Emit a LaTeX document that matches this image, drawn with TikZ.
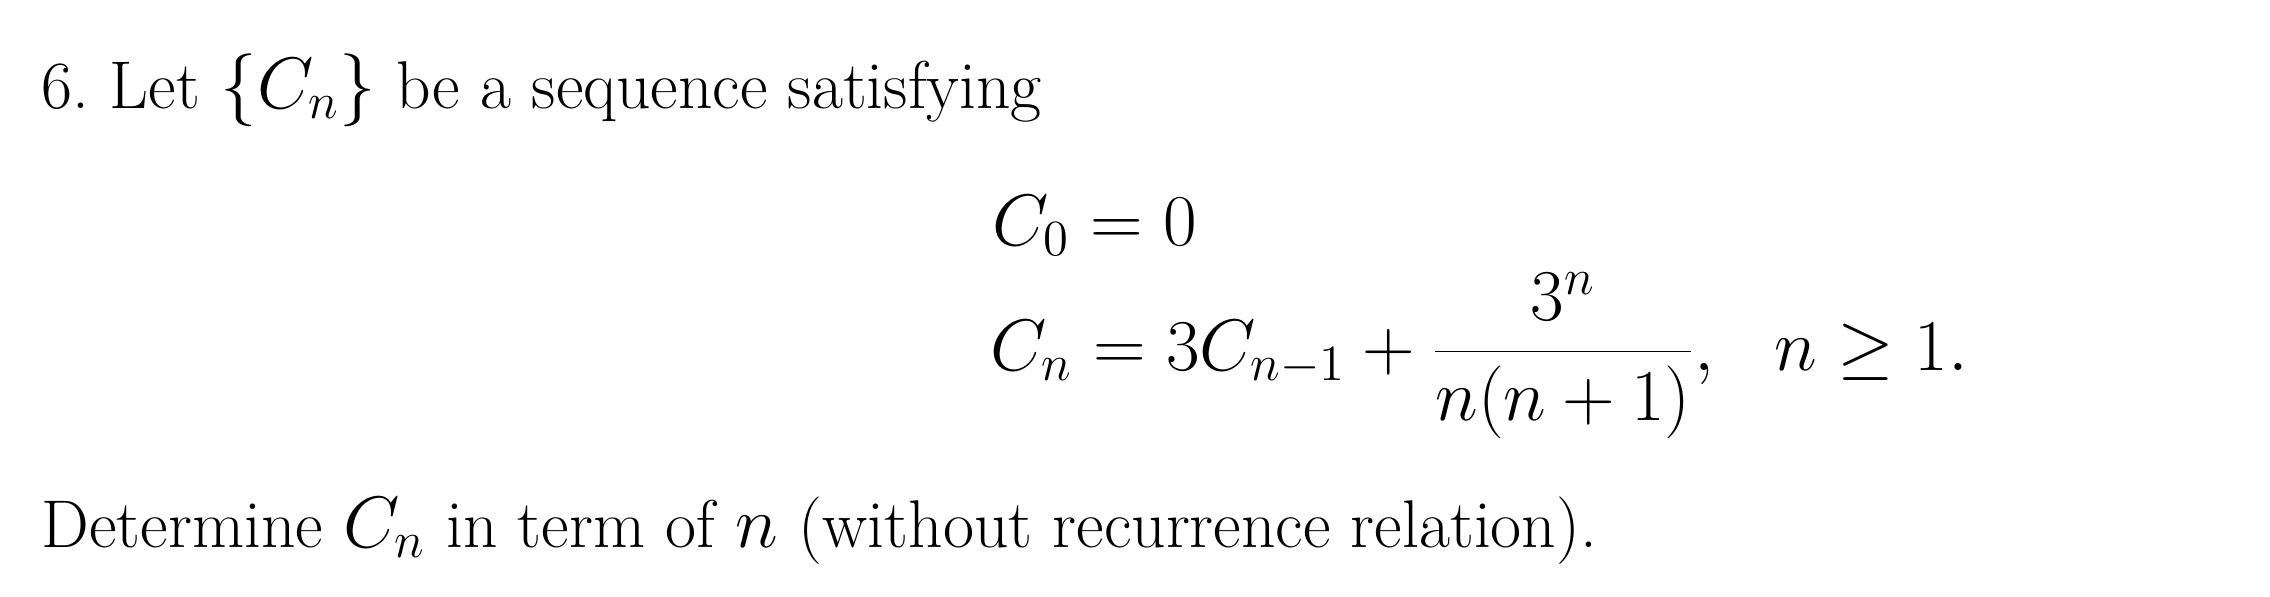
\documentclass[tikz,border=0pt]{standalone}
\begin{document}
\begin{tikzpicture}[x=0.01cm,y=-0.01cm,txt/.style={anchor=base west,inner sep=0pt,font=\fontsize{19.2}{23}\selectfont}]
\useasboundingbox (0,0) rectangle (2270,596);
\node[txt] (l1) at (41,108) {6.\ Let $\{C_n\}$ be a sequence satisfying};
\node[txt] (e1) at (992,245) {$C_0=0$};
\node[txt] (e2) at (990,370) {$\displaystyle C_n=3C_{n-1}+\frac{3^n}{n(n+1)},$};
\node[txt] (e3) at (1774,370) {$n\ge 1.$};
\node[txt] (l3) at (41,547) {Determine $C_n$ in term of $n$ (without recurrence relation).};
\end{tikzpicture}
\end{document}
